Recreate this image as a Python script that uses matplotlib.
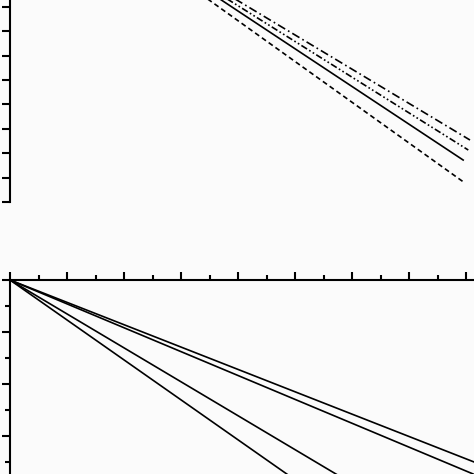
import numpy as np
import matplotlib
matplotlib.use('Agg')
import matplotlib.pyplot as plt
from matplotlib.ticker import MultipleLocator

# top panel: parallel decline lines (x, y endpoints)
top_x = {'solid': [3.5, 7.95], 'dashed': [3.3, 7.98], 'dashdot': [3.75, 8.07], 'dashdotdot': [3.62, 8.04]}
top_y = {'solid': [8.6, 1.72], 'dashed': [8.6, 0.78], 'dashdot': [8.6, 2.54], 'dashdotdot': [8.6, 2.13]}
top_styles = {'solid': '-', 'dashed': (0, (3, 2)), 'dashdot': (0, (5, 2, 1, 2)), 'dashdotdot': (0, (4, 1.5, 1, 1.5, 1, 1.5))}

# bottom panel: lines from origin
bot_x = [0, 8.2]
bot_y = [[0, -7.05], [0, -7.53], [0, -10.7], [0, -12.6]]

fig = plt.figure(figsize=(4.74, 4.74), dpi=100)
fig.patch.set_facecolor('#fbfbfb')

ax1 = fig.add_axes([10/474, 1-202/474, 464/474, 202/474])
ax1.set_facecolor('#fbfbfb')
for k in top_x:
    ax1.plot(top_x[k], top_y[k], color='black', linestyle=top_styles[k], linewidth=1.2)
ax1.set_xlim(0, 464/57)
ax1.set_ylim(0, 202/24.4)
for s in ['top', 'right', 'bottom']:
    ax1.spines[s].set_visible(False)
ax1.spines['left'].set_linewidth(1.5)
ax1.set_xticks([])
ax1.yaxis.set_major_locator(MultipleLocator(1))
ax1.tick_params(axis='y', direction='out', length=6, width=1.5, labelleft=False)

ax2 = fig.add_axes([10/474, 0, 464/474, 194/474])
ax2.set_facecolor('#fbfbfb')
for y in bot_y:
    ax2.plot(bot_x, y, color='black', linewidth=1.2)
ax2.set_xlim(0, 464/57)
ax2.set_ylim(-194/26, 0)
for s in ['right', 'bottom']:
    ax2.spines[s].set_visible(False)
ax2.spines['left'].set_linewidth(1.5)
ax2.spines['top'].set_linewidth(1.5)
ax2.xaxis.tick_top()
ax2.xaxis.set_major_locator(MultipleLocator(1))
ax2.xaxis.set_minor_locator(MultipleLocator(0.5))
ax2.yaxis.set_major_locator(MultipleLocator(2))
ax2.yaxis.set_minor_locator(MultipleLocator(1))
ax2.tick_params(which='major', direction='out', length=6, width=1.5, labeltop=False, labelleft=False)
ax2.tick_params(which='minor', direction='out', length=3.5, width=1.5)

fig.savefig('out.png', dpi=100, facecolor=fig.get_facecolor())
